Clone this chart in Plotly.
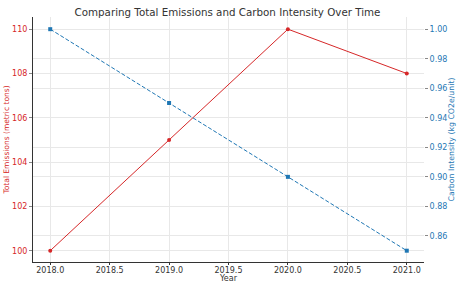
import plotly.graph_objects as go

years = [2018, 2019, 2020, 2021]
total_emissions = [100, 105, 110, 108]
carbon_intensity = [1.00, 0.95, 0.90, 0.85]

RED = "#d62728"
BLUE = "#1f77b4"
FONT = "DejaVu Sans"

fig = go.Figure()
fig.add_trace(go.Scatter(
    x=years, y=total_emissions, mode="lines+markers", name="Total Emissions",
    line=dict(color=RED, width=1), marker=dict(symbol="circle", size=4, color=RED),
    yaxis="y"))
fig.add_trace(go.Scatter(
    x=years, y=carbon_intensity, mode="lines+markers", name="Carbon Intensity",
    line=dict(color=BLUE, width=1, dash="4px,2px"), marker=dict(symbol="square", size=4, color=BLUE),
    yaxis="y2"))

grid = "#e8e8e8"
fig.update_layout(
    width=474, height=288,
    margin=dict(l=33, r=50, t=17, b=26),
    paper_bgcolor="white", plot_bgcolor="white",
    showlegend=False,
    font=dict(family=FONT, size=8, color="#333333"),
    title=dict(text="Comparing Total Emissions and Carbon Intensity Over Time",
               x=0.48, xanchor="center", y=0.958, yanchor="middle",
               font=dict(family=FONT, size=10.3, color="#333333")),
    xaxis=dict(range=[2017.855, 2021.145], tickmode="linear", tick0=2018, dtick=0.5,
               tickformat=".1f", showgrid=True, gridcolor=grid, gridwidth=1,
               showline=True, linecolor="#333333", linewidth=1, zeroline=False,
               ticks="outside", ticklen=2, tickcolor="#333333", automargin=False,
               ticklabelstandoff=-2,
               tickfont=dict(size=8, color="#333333")),
    yaxis=dict(range=[99.49, 110.55], tickmode="linear", tick0=100, dtick=2,
               showgrid=True, gridcolor=grid, gridwidth=1,
               showline=True, linecolor="#333333", linewidth=1, zeroline=False,
               ticks="outside", ticklen=3, tickcolor="#888888", automargin=False,
               tickfont=dict(size=8, color=RED),
               title=dict(text="Total Emissions (metric tons)", font=dict(size=7.5, color=RED), standoff=1)),
    yaxis2=dict(range=[0.84235, 1.00825], overlaying="y", side="right",
                tickmode="linear", tick0=0.86, dtick=0.02, tickformat=".2f",
                showgrid=True, gridcolor=grid, gridwidth=1,
                showline=False, zeroline=False, automargin=False,
                ticks="outside", ticklen=3, tickcolor="#888888",
                tickfont=dict(size=8, color=BLUE),
                title=dict(text="Carbon Intensity (kg CO2e/unit)", font=dict(size=7.8, color=BLUE), standoff=0)),
    annotations=[dict(text="Year", xref="paper", yref="paper", x=0.5, y=-0.066,
                      xanchor="center", yanchor="middle", showarrow=False,
                      font=dict(size=8, color="#333333"))],
)

fig.write_html("out.html")
